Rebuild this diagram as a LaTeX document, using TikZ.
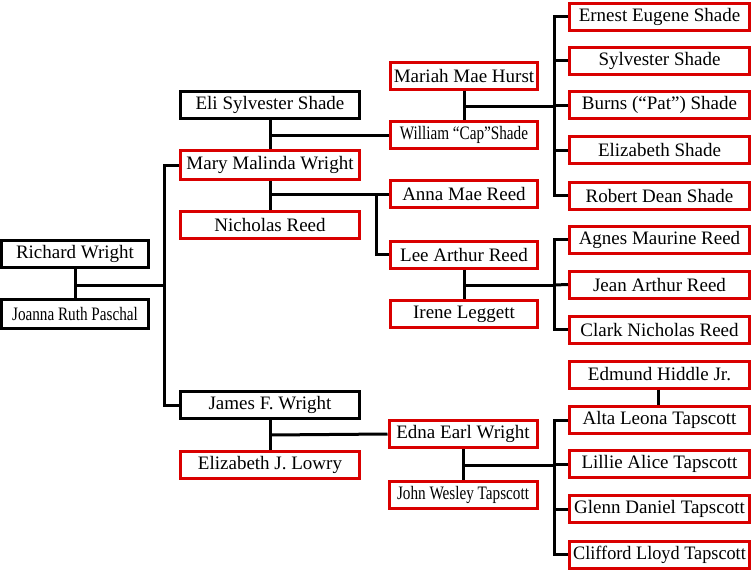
\documentclass[tikz,border=0pt]{standalone}
\usepackage{fontspec}
\setmainfont{Liberation Serif}
\begin{document}
\begin{tikzpicture}[x=1pt,y=-1pt,
  pb/.style={draw=black,line width=3pt,inner sep=0pt,minimum height=27pt,font=\fontsize{19}{21}\selectfont},
  rd/.style={pb,draw=red!85!black},
  ln/.style={line width=3pt}]
\useasboundingbox (0,0) rectangle (753,573);
\newcommand{\cnd}[1]{\scalebox{0.8}[1]{#1}}
% generation 1
\node[pb,minimum width=147pt] (rich) at (75,254) {Richard Wright};
\node[pb,minimum width=147pt,minimum height=29pt] (joan) at (75,314) {\cnd{Joanna Ruth Paschal}};
% generation 2
\node[pb,minimum width=179pt] (eli) at (270,104.5) {Eli Sylvester Shade};
\node[rd,minimum width=179pt,minimum height=29pt] (mary) at (270,165) {Mary Malinda Wright};
\node[rd,minimum width=179pt] (nich) at (270,224.5) {Nicholas Reed};
\node[pb,minimum width=179pt] (james) at (270,405) {James F. Wright};
\node[rd,minimum width=179pt] (lowry) at (270,465) {Elizabeth J. Lowry};
% generation 3
\node[rd,minimum width=147pt] (mariah) at (464,75.5) {Mariah Mae Hurst};
\node[rd,minimum width=147pt] (will) at (464,135) {\cnd{William “Cap”Shade}};
\node[rd,minimum width=147pt] (anna) at (464,194) {Anna Mae Reed};
\node[rd,minimum width=147pt] (lee) at (464,254.5) {Lee Arthur Reed};
\node[rd,minimum width=147pt] (irene) at (464,314) {Irene Leggett};
\node[rd,minimum width=148pt] (edna) at (463,434) {Edna Earl Wright};
\node[rd,minimum width=148pt] (john) at (463,494.5) {\cnd{John Wesley Tapscott}};
% generation 4
\foreach \n/\y/\t in {ernest/16.5/Ernest Eugene Shade, syl/60.5/Sylvester Shade, burns/105/Burns (“Pat”) Shade, eliz/150/Elizabeth Shade, rob/195.5/Robert Dean Shade, agnes/239.5/Agnes Maurine Reed, jean/284.5/Jean Arthur Reed, clark/329.5/Clark Nicholas Reed, edm/374.5/Edmund Hiddle Jr., alta/420/Alta Leona Tapscott, lillie/464/Lillie Alice Tapscott, glenn/509/Glenn Daniel Tapscott, cliff/554.5/{\scalebox{0.96}[1]{Clifford Lloyd Tapscott}}}
  \node[rd,minimum width=180pt] (\n) at (659.5,\y) {\t};
% connectors
\coordinate (j1) at (75,285); \coordinate (b1) at (164,285);
\draw[ln] (rich.south) -- (joan.north);
\draw[ln] (j1) -- (b1);
\draw[ln] (mary.west) -| (b1) |- (james.west);
\coordinate (j2) at (270,135);
\draw[ln] (eli.south) -- (mary.north);
\draw[ln] (j2) -- (will.west);
\coordinate (j3) at (270,194); \coordinate (b3) at (376,194);
\draw[ln] (mary.south) -- (nich.north);
\draw[ln] (j3) -- (anna.west);
\draw[ln] (b3) |- (lee.west);
\coordinate (j4) at (464,106); \coordinate (b4) at (554,106);
\draw[ln] (mariah.south) -- (will.north);
\draw[ln] (j4) -- (b4);
\draw[ln] (ernest.west) -| (b4) |- (rob.west);
\foreach \n in {syl,burns,eliz} \draw[ln] (b4 |- \n.west) -- (\n.west);
\coordinate (j5) at (464,285); \coordinate (b5) at (554,285);
\draw[ln] (lee.south) -- (irene.north);
\draw[ln] (j5) -- (b5);
\draw[ln] (agnes.west) -| (b5) |- (clark.west);
\draw[ln] (b5) -- (jean.west);
\coordinate (j6) at (270,435);
\draw[ln] (james.south) -- (lowry.north);
\draw[ln] (j6) -- (edna.west);
\coordinate (j7) at (463,465); \coordinate (b7) at (554,465);
\draw[ln] (edna.south) -- (john.north);
\draw[ln] (j7) -- (b7);
\draw[ln] (alta.west) -| (b7) |- (cliff.west);
\foreach \n in {lillie,glenn} \draw[ln] (b7 |- \n.west) -- (\n.west);
\draw[ln] (edm.south -| 658,0) -- (alta.north -| 658,0);
\end{tikzpicture}
\end{document}
